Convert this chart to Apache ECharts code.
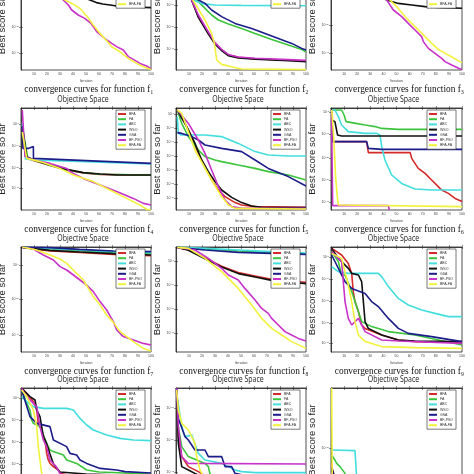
<!DOCTYPE html>
<html>
<head>
<meta charset="utf-8">
<script src="https://cdn.jsdelivr.net/npm/echarts@6/dist/echarts.min.js"></script>
<style>
  html, body { margin: 0; padding: 0; background: #fff; }
  #chart { width: 474px; height: 474px; }
</style>
</head>
<body>
<div id="chart"></div>
<script>
// algorithms in plotting order (later ones drawn on top)
const algorithms = ["BFA", "FA", "ABC", "WSO", "GSA", "BF-PSO", "BFA-FA"];
const algoColors = ["#d42a2a", "#3cc43c", "#42dede", "#111111", "#1c1c8a", "#c832c8", "#f2f23c"];
const funcTitles = ["f\u2081", "f\u2082", "f\u2083", "f\u2084", "f\u2085", "f\u2086", "f\u2087", "f\u2088", "f\u2089"];

// y tick exponents for each panel (labels 10^n)
const yTicks = [
  [-3, -16, -30, -43], [-8, -19, -30, -41], [-1, -15, -29, -43],
  [-8, -19, -30, -40], [-3, -10, -17, -24, -31, -38, -45], [-2, -13, -25, -36, -47],
  [-9, -26, -44], [-7, -19, -31, -43], [-5, -16, -27, -38, -48],
  [-5, -16, -27, -38, -49], [-10, -26, -42], [-30]
];

// curves: [iteration, log10(best score so far)]
const f1 = {
  "BFA": [[1, -0.5], [20, -3], [50, -5], [100, -7]],
  "FA": [[1, -0.5], [20, -4], [50, -7], [100, -9]],
  "ABC": [[1, -0.5], [20, -2], [50, -3], [100, -4]],
  "WSO": [[1, -0.5], [20, -8], [40, -13], [53, -16.5], [58, -17.8], [63, -18.5], [68.5, -19], [73.6, -19.5], [85, -20], [100, -20.3]],
  "GSA": [[1, -0.5], [20, -5], [50, -9], [100, -12]],
  "BF-PSO": [[1, -0.5], [10, -6], [20, -10], [32.5, -16.5], [36.4, -19], [39, -21.5], [44, -24], [49, -25.7], [53.8, -28.2], [58.2, -32.3], [66, -36.5], [69.8, -38.2], [73.6, -39.8], [78.7, -41.5], [82.5, -44.8], [86.4, -46.2], [91.5, -48.2], [96.7, -49.5], [100, -51]],
  "BFA-FA": [[1, -0.5], [10, -5], [20, -9], [33.8, -16.5], [39, -18.2], [45.4, -20.7], [51, -24.9], [55.6, -29], [60.8, -33.2], [65.9, -36.9], [69.8, -39.9], [76.2, -42.4], [82.5, -45.7], [89, -48.2], [94.1, -49.9], [100, -51.2]]
};
const f2 = {
  "BFA": [[1, -0.5], [12, -16.5], [17.2, -24.9], [24.9, -33.2], [30, -38.2], [35.1, -41.5], [40.2, -44], [47.9, -45.2], [60.8, -45.9], [86.4, -46.6], [100, -47]],
  "FA": [[1, -0.5], [10, -10], [15.9, -16.5], [21, -19.8], [27.4, -24], [32.6, -26.5], [40.3, -28.5], [50.5, -30.7], [60.8, -33.2], [73.6, -36.2], [86.4, -39], [96.7, -41.2], [100, -42.5]],
  "ABC": [[1, -0.5], [8, -8], [13.3, -16.5], [20, -18.3], [30, -19], [50, -19.2], [100, -19.4]],
  "WSO": [[1, -0.5], [12, -16.5], [17.2, -25.2], [24.9, -33.5], [30, -38.5], [35.1, -41.8], [40.2, -44.3], [47.9, -45.5], [60.8, -46.1], [86.4, -46.9], [100, -47.3]],
  "GSA": [[1, -0.5], [10, -9], [17.2, -16.5], [22.3, -18.2], [27.4, -21.5], [35.1, -24.8], [45.4, -28.2], [58.2, -30.7], [68.5, -33.2], [78.7, -35.7], [89, -38.2], [96.7, -40.7], [100, -41.5]],
  "BF-PSO": [[1, -0.5], [12, -16.5], [17.2, -24], [24.9, -32.5], [30, -37.8], [35.1, -41.2], [40.2, -43.7], [47.9, -45], [60.8, -45.6], [86.4, -46.3], [100, -46.7]],
  "BFA-FA": [[1, -0.5], [13, -16.5], [22.3, -26.5], [27.4, -33.2], [29.5, -38.2], [31.3, -46.5], [35.1, -48.7], [42.8, -49.9], [50.5, -51], [100, -51.3]]
};
const f3 = {
  "BFA": [[1, -0.5], [30, -5], [100, -9]],
  "FA": [[1, -0.5], [30, -6], [100, -11]],
  "ABC": [[1, -0.5], [30, -3], [100, -5]],
  "WSO": [[1, -0.5], [20, -8], [42.5, -16.5], [51.4, -18.2], [61.6, -19], [71.8, -19.8], [85, -20.3], [100, -20.6]],
  "GSA": [[1, -0.5], [30, -7], [100, -13]],
  "BF-PSO": [[1, -0.5], [20, -8], [42.5, -16.5], [47.6, -21.5], [54, -24.8], [59, -28.2], [64.1, -31.5], [69.2, -34.8], [70.5, -37.3], [74.3, -40.7], [79.4, -43.2], [84.5, -45.7], [87, -47.3], [92.1, -49], [97.7, -50.7], [100, -51.2]],
  "BFA-FA": [[1, -0.5], [20, -7], [45, -16.5], [51.4, -20.7], [57.8, -25.7], [64.1, -29.8], [71.8, -34.8], [76.9, -38.2], [81.9, -41.2], [89.5, -44], [98.5, -47.3], [100, -47.8]]
};
const f4 = {
  "BFA": [[1, -10], [4.4, -25], [9.5, -26.2], [22.3, -28.8], [35.1, -31], [47.9, -32.5], [60.8, -33.2], [100, -33.6]],
  "FA": [[1, -9], [5, -24.5], [10, -26.1], [22, -28.6], [35, -30.9], [48, -32.4], [61, -33.1], [100, -33.5]],
  "ABC": [[1, -7.7], [3.5, -25.5], [9.5, -26], [50, -26.8], [100, -28]],
  "WSO": [[1, -9.3], [4.4, -24.3], [9.5, -26], [22.3, -28.5], [35.1, -30.7], [47.9, -32.3], [60.8, -33], [73.6, -33.5], [100, -33.5]],
  "GSA": [[1, -9.3], [1.5, -20.2], [5.6, -20.2], [5.6, -19.3], [9.5, -19.3], [9.6, -25.2], [50, -26.3], [100, -27.7]],
  "BF-PSO": [[1, -1], [3.1, -24.3], [9.5, -26], [22.3, -27.7], [35.1, -30.2], [37.7, -31.8], [47.9, -35.2], [60.8, -38.5], [73.6, -41.8], [86.4, -45.2], [94.1, -47.7], [100, -48.5]],
  "BFA-FA": [[1, -12], [4.4, -25.2], [14.6, -26.8], [30, -30.2], [40.2, -33.5], [55.6, -36.8], [68.5, -41], [81.3, -45.2], [91.5, -48.5], [96.7, -50.7], [100, -51]]
};
const f5 = {
  "BFA": [[1, -1], [6.9, -7.7], [12.1, -14.3], [17.2, -22.7], [22.3, -29.3], [27.4, -36], [32.6, -41], [37.7, -44.3], [45.4, -47.3], [50.5, -48.5], [60.8, -49.3], [100, -49.7]],
  "FA": [[1, -1], [4.4, -7.7], [9.5, -14.3], [17.2, -21], [22.3, -24.3], [30, -26], [35.1, -26.8], [47.9, -28.5], [60.8, -30.2], [71, -31.8], [86.4, -33.5], [100, -36]],
  "ABC": [[1, -4.3], [1.8, -12.7], [4, -13.5], [22.3, -13.5], [35.1, -14.3], [47.9, -17.7], [60.8, -21.8], [71, -23.5], [86.4, -24], [100, -24]],
  "WSO": [[1, -1], [8.2, -9.3], [14.6, -17.7], [19.7, -26], [24.9, -31.8], [30, -36.8], [35.1, -41], [42.8, -44.7], [50.5, -47.3], [58.2, -49], [65.9, -49.7], [100, -49.8]],
  "GSA": [[1, -12.3], [4.4, -12.7], [12.1, -14.3], [17.2, -16], [22.3, -18.5], [35.1, -20.2], [50.5, -21.8], [60.8, -26], [71, -30.2], [86.4, -34.3], [100, -39]],
  "BF-PSO": [[1, -1], [9.5, -7.7], [17.2, -16], [22.3, -22.7], [27.4, -31], [32.6, -39.3], [37.7, -46], [42.8, -49.3], [50.5, -50.2], [100, -50.2]],
  "BFA-FA": [[1, -1], [4.4, -2.7], [14.6, -21], [27.4, -36], [35.1, -44.3], [40.3, -48.5], [45.4, -50.2], [100, -50.5]]
};
const f6 = {
  "BFA": [[0.5, -16.8], [27.2, -16.8], [28.5, -22.3], [60.5, -22.3], [61.6, -25.2], [64.1, -27.7], [66.6, -30.2], [71.8, -32.7], [76.8, -36], [81.9, -39.3], [84.4, -41], [89.6, -42.7], [94.7, -45.2], [100, -46.8]],
  "FA": [[1, -1], [8.1, -1], [10, -3.5], [11.5, -6.8], [19, -7.7], [26, -8.5], [33.6, -9.3], [38.7, -10.2], [51.4, -10.7], [100, -10.7]],
  "ABC": [[1, -1], [3, -1], [5.6, -4.3], [8.1, -8.5], [13.2, -11.8], [26, -12.7], [34.9, -12.7], [37.4, -13.5], [38.7, -19.3], [41.2, -26], [46.3, -33.5], [53.9, -37.7], [64.1, -40.5], [76.8, -41], [100, -41]],
  "WSO": [[0.5, -6], [3, -6.8], [3.5, -7.7], [5, -13.5], [8.1, -14], [100, -14]],
  "GSA": [[0.5, -6], [1.5, -16.8], [27.2, -16.8], [28.5, -20.2], [38.7, -20.7], [100, -20.7]],
  "BF-PSO": [[0.5, -1], [0.6, -15], [1.3, -48.8], [43.8, -48.8], [44.5, -51]],
  "BFA-FA": [[0.5, -1], [1, -4.3], [2.3, -17.7], [3.5, -34.3], [4.8, -44.3], [5.6, -48.5], [6.9, -49.3], [100, -49.3]]
};
const f7 = {
  "BFA": [[1, -0.2], [9.5, -1], [22.3, -2], [45, -2.7], [71, -3.7], [100, -4.3]],
  "FA": [[1, -0.1], [22.3, -0.8], [45, -1.8], [71, -2.7], [100, -3.2]],
  "ABC": [[1, -0.1], [22.3, -0.7], [45, -1.5], [71, -2.3], [100, -2.8]],
  "WSO": [[1, -0.2], [22.3, -1.7], [45, -2.5], [71, -3.3], [100, -4]],
  "GSA": [[1, 0], [22.3, -0.3], [45, -1.2], [71, -2], [100, -2.3]],
  "BF-PSO": [[1, 0], [9.5, -1], [17.2, -4], [24.9, -6.5], [30, -9.8], [35.1, -11.5], [40.3, -14], [45.4, -16.5], [50.5, -19], [55.6, -22.3], [60.8, -27.3], [65.9, -31.5], [71, -37.3], [73.6, -41.5], [78.7, -44.8], [86.4, -46.5], [94.1, -48.2], [100, -49]],
  "BFA-FA": [[1, 0], [12, -1.5], [22.3, -4], [30, -6], [35.1, -8.2], [47.9, -16.5], [55.6, -24.8], [60.8, -29], [65.9, -34], [71, -37.7], [76.2, -42.3], [81.3, -44.8], [86.4, -47.3], [94.1, -50.7], [100, -52]]
};
const f8 = {
  "BFA": [[1, -0.2], [9.5, -1.3], [22.3, -5.5], [35.1, -9.6], [47.9, -12.8], [60.8, -14.5], [73.6, -16.2], [86.4, -17], [100, -17.6]],
  "FA": [[1, -0.2], [22.3, -1], [47.9, -2], [73.6, -2.8], [100, -3.3]],
  "ABC": [[1, -0.2], [22.3, -0.7], [47.9, -1.5], [73.6, -2.3], [100, -3]],
  "WSO": [[1, -0.2], [9.5, -1.6], [22.3, -5.9], [35.1, -10], [47.9, -13.3], [60.8, -15], [73.6, -16.7], [86.4, -17.5], [100, -18.3]],
  "GSA": [[1, -0.2], [22.3, -1.5], [47.9, -2.7], [73.6, -3.2], [100, -3.7]],
  "BF-PSO": [[1, -0.2], [14.6, -1.5], [24.9, -5.7], [35.1, -10.7], [40.3, -14], [47.9, -16.5], [53, -20.7], [60.8, -26.5], [65.9, -30.7], [71, -33.2], [73.6, -35.7], [78.7, -39], [83.8, -42.3], [88.9, -44], [94.1, -45.7], [100, -47]],
  "BFA-FA": [[1, -0.2], [9.5, -0.7], [22.3, -5.7], [35.1, -12.3], [47.9, -20.7], [58.2, -29], [65.9, -35.7], [73.6, -40.7], [81.3, -44], [88.9, -47.3], [100, -50.7]]
};
const f9 = {
  "BFA": [[0.5, -0.7], [8.1, -4], [13.2, -8.2], [15.8, -13.2], [17, -22.3], [18.3, -27.3], [20.9, -32.3], [23.4, -39], [26, -40.7], [38.7, -44], [51.4, -46.5], [64.1, -47.3], [100, -47.7]],
  "FA": [[0.5, -2.3], [5.6, -7.3], [8.1, -14], [10.7, -14], [15.8, -22.3], [23.4, -37.3], [31, -39.8], [43.8, -42.3], [64.1, -44], [100, -49]],
  "ABC": [[0.5, -9.8], [5.6, -12.3], [13.2, -13.2], [36.1, -13.2], [38.7, -14.8], [43.8, -19.8], [51.4, -25.7], [59, -29], [69.2, -31.5], [79.4, -33.2], [89.6, -34.8], [100, -34.8]],
  "WSO": [[0.5, -0.7], [5.6, -5.7], [13.2, -10.7], [15.8, -13.2], [20.9, -14], [23.4, -17.3], [24.7, -27.3], [26, -37.3], [28.5, -40.7], [38.7, -44], [51.4, -46.5], [64.1, -47], [100, -47.3]],
  "GSA": [[0.5, -4], [10.7, -17.3], [15.8, -20.7], [26, -23.2], [31, -27.3], [36.1, -29.8], [43.8, -35.7], [51.4, -40.7], [59, -43.2], [76.8, -44.8], [100, -47.3]],
  "BF-PSO": [[0.5, -2.3], [8.1, -7.3], [10.7, -27.3], [13.2, -35.7], [15.8, -39], [20.9, -35.7], [26, -42.3], [38.7, -46.5], [51.4, -47], [100, -48.2]],
  "BFA-FA": [[0.5, -3.2], [8.1, -5.7], [13.2, -19], [15.8, -27.3], [18.3, -37.3], [20.9, -44], [26, -47.3], [38.7, -49.8], [64.1, -50.3], [100, -50.7]]
};
const f10 = {
  "BFA": [[0.5, -0.2], [4.4, -2.7], [9.5, -6.8], [12.1, -11], [13.3, -17.7], [15.9, -21], [18.5, -26], [19.7, -32.7], [21, -36], [22.3, -37.7], [24.9, -39.3], [28.7, -41], [30, -42.7], [40, -44], [100, -45]],
  "FA": [[0.5, -1], [4.4, -7.7], [6.9, -11], [8.2, -16], [9.5, -17.7], [14.6, -19.3], [19.7, -27.7], [22.3, -31], [24.9, -31.8], [32.6, -33.5], [35.1, -36], [42.8, -37.7], [50.5, -41], [60, -42], [100, -43]],
  "ABC": [[0.5, -4.3], [4.4, -6.8], [9.5, -9.3], [17.2, -10.2], [35.1, -10.2], [40.3, -11], [45.4, -15.2], [50.5, -18.5], [55.6, -21], [65.9, -23.5], [76.2, -25.2], [86.4, -26], [100, -26.3]],
  "WSO": [[0.5, -0.2], [6.9, -4.3], [10.8, -6], [12.1, -11], [14.6, -14.3], [15.9, -19.3], [17.2, -24.3], [19.7, -27.7], [22.3, -33], [25, -38], [30, -42], [50, -43], [100, -44]],
  "GSA": [[0.5, -1], [6.9, -14.3], [12.1, -17.7], [22.3, -19.3], [24.9, -26], [35.1, -29.3], [37.7, -32.7], [42.8, -33.5], [45.4, -36], [50.5, -37.7], [60.8, -40.2], [73.6, -41], [80, -41.8], [100, -42.5]],
  "BF-PSO": [[0.5, -0.2], [4.4, -4.3], [12.1, -9.3], [14.6, -19.3], [17.2, -26], [19.7, -29.3], [22.3, -36], [27, -39.3], [30, -42.7], [40, -45], [100, -46]],
  "BFA-FA": [[0.5, -1], [4.4, -4.3], [9.5, -11], [12.1, -19.3], [13.3, -29.3], [14.6, -36], [15.9, -42.7], [17, -48], [20, -51], [100, -51.5]]
};
const f11 = {
  "BFA": [[0.5, -1], [1.8, -24.3], [4.4, -34.3], [9.5, -39.3], [17.2, -41.8], [25, -45], [100, -46]],
  "FA": [[0.5, -1.8], [1.8, -19.3], [4.4, -29.3], [9.5, -34.3], [22.3, -37.7], [24.9, -39.3], [26, -42.7], [30, -46], [100, -47]],
  "ABC": [[0.5, -2.7], [4.4, -19.3], [6.9, -24.3], [12.1, -23.5], [17.2, -32.7], [22.3, -36], [35.1, -37.7], [40.3, -39.3], [45.4, -41], [50.5, -41.8], [60.8, -42.3], [100, -42.3]],
  "WSO": [[0.5, -1], [1.8, -27.7], [4.4, -39.3], [9.5, -41], [14.6, -42.7], [25, -46], [100, -47]],
  "GSA": [[0.5, 0], [1.8, -15.2], [6.9, -24.3], [9.5, -26], [14.6, -31], [22.3, -31], [24.9, -34.3], [35.1, -34.3], [37.7, -39.3], [42.8, -39.3], [45.4, -42.7], [55, -44], [100, -45]],
  "BF-PSO": [[0.5, -0.2], [1.3, -11], [1.8, -19.3], [4.4, -34.3], [6.9, -36], [9.5, -37.7], [100, -38]],
  "BFA-FA": [[0.5, -1], [1.8, -11], [4.4, -17.7], [9.5, -21], [14.6, -27.7], [15.9, -34.3], [18.5, -41], [19.7, -42.7], [25, -46], [100, -47]]
};
const f12 = {
  "BFA": [[0.5, -37.7], [2, -45], [10, -50], [100, -52]],
  "FA": [[0.5, -33.5], [1.8, -34.3], [3, -36], [4.3, -37.7], [6.9, -39.3], [8.1, -40.2], [10.7, -42.7], [12, -46], [20, -50], [100, -51]],
  "ABC": [[0.5, -31], [18.3, -31.3], [19.6, -45], [25, -51], [100, -52]],
  "WSO": [[0.5, -40], [5, -48], [10, -51], [100, -52]],
  "GSA": [[0.5, -41], [5, -49], [10, -51], [100, -52]],
  "BF-PSO": [[0.5, -42], [5, -50], [10, -51.5], [100, -52]],
  "BFA-FA": [[0.5, 0], [1, -52], [100, -53]]
};
const panels = [f1, f2, f3, f4, f5, f6, f7, f8, f9, f10, f11, f12];

// layout of the 4 x 3 axes grid (pixels)
const cols = [{ left: 21, w: 130 }, { left: 176, w: 130 }, { left: 331, w: 131 }];
const rows = [
  { top: -33, h: 103, min: -51.5 },
  { top: 108, h: 102, min: -51 },
  { top: 247, h: 105, min: -52.5 },
  { top: 388, h: 104, min: -52 }
];

const chart = echarts.init(document.getElementById("chart"), null, { renderer: "canvas" });

const grid = [], xMain = [], yMain = [], xMirror = [], yMirror = [];
const series = [], legend = [], graphic = [];
const tickStyle = { inside: true, length: 2, lineStyle: { color: "#222", width: 0.5 } };

panels.forEach(function (panel, p) {
  const col = cols[p % 3];
  const row = rows[Math.floor(p / 3)];
  grid.push({
    left: col.left, top: row.top, width: col.w, height: row.h,
    outerBoundsMode: "none", containLabel: false,
    show: true, borderColor: "#222", borderWidth: 0.8, backgroundColor: "#fff"
  });
  xMain.push({
    type: "value", gridIndex: p, min: 0, max: 100, interval: 10,
    name: "Iteration", nameLocation: "middle", nameGap: 9,
    nameTextStyle: { fontSize: 3.5, color: "#444" },
    axisLine: { lineStyle: { color: "#222", width: 0.8 } },
    axisTick: tickStyle,
    axisLabel: { fontSize: 3.5, color: "#444", margin: 2, showMinLabel: false },
    splitLine: { show: false }
  });
  // MATLAB box: ticks along the top and right edges too
  xMirror.push({
    type: "value", gridIndex: p, position: "top", min: 0, max: 100, interval: 10,
    axisLine: { show: false }, axisTick: tickStyle, axisLabel: { show: false }, splitLine: { show: false }
  });
  yMain.push({
    type: "value", gridIndex: p, min: row.min, max: 0,
    name: "Best score so far", nameLocation: "middle", nameGap: 14,
    nameTextStyle: { fontSize: 9.5, color: "#222", fontFamily: "Liberation Sans" },
    axisLine: { lineStyle: { color: "#222", width: 0.8 } },
    axisTick: Object.assign({ customValues: yTicks[p] }, tickStyle),
    axisLabel: {
      fontSize: 3.5, color: "#444", margin: 2, customValues: yTicks[p],
      formatter: function (v) { return "10{s|" + v + "}"; },
      rich: { s: { fontSize: 2.5, color: "#444", verticalAlign: "top" } }
    },
    splitLine: { show: false }
  });
  yMirror.push({
    type: "value", gridIndex: p, position: "right", min: row.min, max: 0,
    axisLine: { show: false }, axisTick: Object.assign({ customValues: yTicks[p] }, tickStyle),
    axisLabel: { show: false, customValues: yTicks[p] }, splitLine: { show: false }
  });
  algorithms.forEach(function (name, k) {
    series.push({
      name: name, type: "line", xAxisIndex: p, yAxisIndex: p,
      data: panel[name], showSymbol: false, symbol: "none",
      lineStyle: { width: 1.6, color: algoColors[k] },
      itemStyle: { color: algoColors[k] },
      clip: true, z: 2 + k, silent: true
    });
  });
  legend.push({
    orient: "vertical", left: col.left + col.w - 35, top: row.top + 2,
    itemWidth: 8, itemHeight: 2, itemGap: 1.2, selectedMode: false,
    backgroundColor: "#fff", borderColor: "#222", borderWidth: 0.6,
    padding: [2, 3, 2, 2], icon: "rect",
    textStyle: { fontSize: 3.5, color: "#333", padding: [0, 0, 0, -2] },
    data: algorithms, z: 10
  });
  graphic.push({
    type: "text", x: col.left + col.w / 2 - 3, y: row.top - 8, z: 20, scaleX: 0.82,
    style: { text: "Objective Space", font: "8.5px 'Open Sans'", fill: "#222", align: "center", verticalAlign: "middle" }
  });
  if (p < funcTitles.length) {
    graphic.push({
      type: "text", x: col.left + col.w / 2 + 3, y: row.top + row.h + 19, z: 20, scaleX: 0.85,
      style: { text: "convergence curves for function " + funcTitles[p], font: "11px 'Liberation Serif'", fill: "#111", align: "center", verticalAlign: "middle" }
    });
  }
});

chart.setOption({
  animation: false,
  backgroundColor: "#fff",
  grid: grid,
  xAxis: xMain.concat(xMirror),
  yAxis: yMain.concat(yMirror),
  legend: legend,
  graphic: graphic,
  series: series
});
</script>
</body>
</html>
